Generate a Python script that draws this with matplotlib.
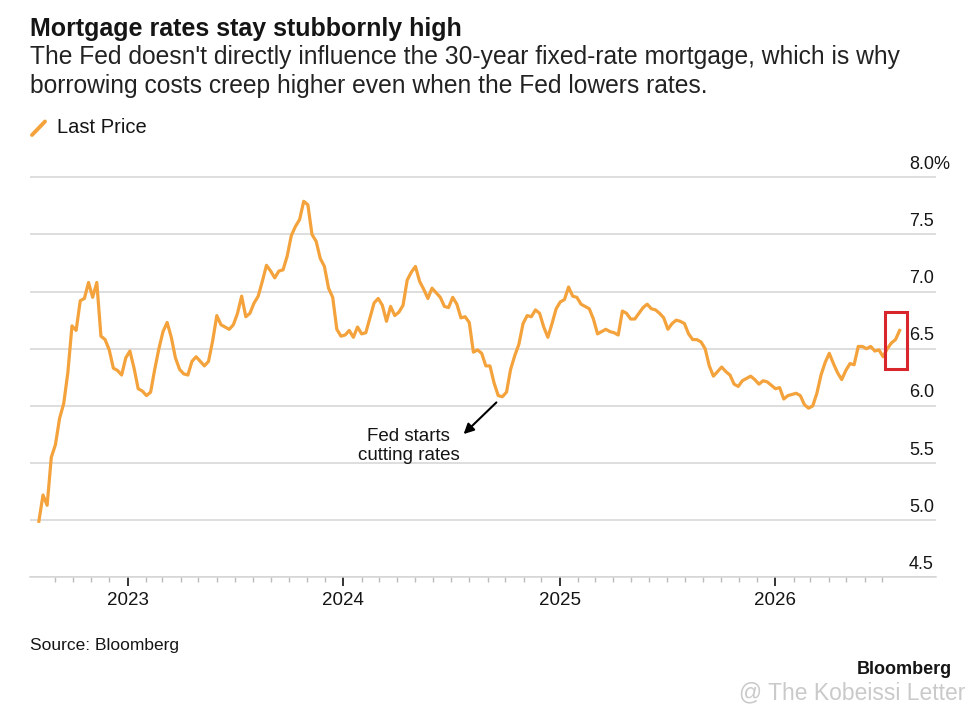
import matplotlib
matplotlib.use("Agg")
import matplotlib.pyplot as plt
import matplotlib.dates as mdates
import matplotlib.patches as mpatches
from matplotlib.lines import Line2D
from matplotlib.transforms import blended_transform_factory, offset_copy
import pandas as pd

# ── data (weekly 30-year fixed rate, %) ─────────────────────
FIRST_WEEK = "2022-08-04"
RATES_2022 = [4.99, 5.22, 5.13, 5.55, 5.66, 5.89, 6.02, 6.29, 6.70, 6.66, 6.92,
              6.94, 7.08, 6.95, 7.08, 6.61, 6.58, 6.49, 6.33, 6.31, 6.27, 6.42]
RATES_2023 = [6.48, 6.33, 6.15, 6.13, 6.09, 6.12, 6.32, 6.50, 6.65, 6.73, 6.60,
              6.42, 6.32, 6.28, 6.27, 6.39, 6.43, 6.39, 6.35, 6.39, 6.57, 6.79,
              6.71, 6.69, 6.67, 6.71, 6.81, 6.96, 6.78, 6.81, 6.90, 6.96, 7.09,
              7.23, 7.18, 7.12, 7.18, 7.19, 7.31, 7.49, 7.57, 7.63, 7.79, 7.76,
              7.50, 7.44, 7.29, 7.22, 7.03, 6.95, 6.67, 6.61]
RATES_2024 = [6.62, 6.66, 6.60, 6.69, 6.63, 6.64, 6.77, 6.90, 6.94, 6.88, 6.74,
              6.87, 6.79, 6.82, 6.88, 7.10, 7.17, 7.22, 7.09, 7.02, 6.94, 7.03,
              6.99, 6.95, 6.87, 6.86, 6.95, 6.89, 6.77, 6.78, 6.73, 6.47, 6.49,
              6.46, 6.35, 6.35, 6.20, 6.09, 6.08, 6.12, 6.32, 6.44, 6.54, 6.72,
              6.79, 6.78, 6.84, 6.81, 6.69, 6.60, 6.72, 6.85]
RATES_2025 = [6.91, 6.93, 7.04, 6.96, 6.95, 6.89, 6.87, 6.85, 6.76, 6.63, 6.65,
              6.67, 6.65, 6.64, 6.62, 6.83, 6.81, 6.76, 6.76, 6.81, 6.86, 6.89,
              6.85, 6.84, 6.81, 6.77, 6.67, 6.72, 6.75, 6.74, 6.72, 6.63, 6.58,
              6.58, 6.56, 6.50, 6.35, 6.26, 6.30, 6.34, 6.30, 6.27, 6.19, 6.17,
              6.22, 6.24, 6.26, 6.23, 6.19, 6.22, 6.21, 6.18]
RATES_2026 = [6.15, 6.16, 6.06, 6.09, 6.10, 6.11, 6.09, 6.01, 5.98, 6.00, 6.11,
              6.27, 6.38, 6.46, 6.37, 6.29, 6.23, 6.31, 6.37, 6.36, 6.52, 6.52,
              6.50, 6.52, 6.48, 6.49, 6.43, 6.50, 6.55, 6.58, 6.66]

Y_TICKS = [4.5, 5.0, 5.5, 6.0, 6.5, 7.0, 7.5, 8.0]
Y_LABELS = ["4.5", "5.0", "5.5", "6.0", "6.5", "7.0", "7.5", "8.0%"]
YEAR_TICKS = ["2023-01-01", "2024-01-01", "2025-01-01", "2026-01-01"]
YEAR_LABELS = ["2023", "2024", "2025", "2026"]
MONTH_TICKS = ("2022-09-01", "2026-07-01")
X_RANGE = ("2022-07-20", "2026-09-29")
HIGHLIGHT_DATES = ("2026-07-05", "2026-08-12")
HIGHLIGHT_RATES = (6.32, 6.82)

ORANGE = "#F4A23C"
GRID = "#D4D4D4"
INK = "#151515"

W, H = 974, 705


def fx(px):
    return px / W


def fy(py):
    return 1 - py / H


plt.rcParams["font.family"] = ["Liberation Sans", "DejaVu Sans"]

rates = RATES_2022 + RATES_2023 + RATES_2024 + RATES_2025 + RATES_2026
dates = pd.date_range(FIRST_WEEK, periods=len(rates), freq="7D")
series = pd.Series(rates, index=dates)

fig = plt.figure(figsize=(W / 100, H / 100), dpi=100)
ax = fig.add_axes([fx(30), fy(577.3), fx(935.7) - fx(30), fy(171.6) - fy(577.3)])

ax.plot(series.index, series.values, color=ORANGE, lw=2.3, solid_joinstyle="round", zorder=3)

ax.set_xlim(pd.Timestamp(X_RANGE[0]), pd.Timestamp(X_RANGE[1]))
ax.set_ylim(4.5, 8.05)

# gridlines + right-side labels sitting on top of them
ax.set_yticks(Y_TICKS)
ax.tick_params(axis="y", length=0, labelleft=False)
ax.grid(axis="y", color=GRID, lw=1.1)
ax.set_axisbelow(True)
lab_tr = offset_copy(blended_transform_factory(fig.transFigure, ax.transData),
                     fig=fig, y=6.1, units="points")
for v, lab in zip(Y_TICKS, Y_LABELS):
    ax.text(fx(909), v, lab, transform=lab_tr, ha="left", va="baseline",
            fontsize=13, color=INK)

for side in ["top", "right", "left"]:
    ax.spines[side].set_visible(False)
ax.spines["bottom"].set_color(GRID)
ax.spines["bottom"].set_linewidth(1.1)

ax.set_xticks(pd.to_datetime(YEAR_TICKS))
ax.set_xticklabels(YEAR_LABELS)
ax.set_xticks(pd.date_range(MONTH_TICKS[0], MONTH_TICKS[1], freq="MS"), minor=True)
ax.tick_params(axis="x", which="major", length=6.5, width=1.4, color="#333333",
               labelsize=13.5, labelcolor=INK, pad=3.8)
ax.tick_params(axis="x", which="minor", length=3.6, width=1.0, color="#BBBBBB")

# ── annotation ───────────────────────────────────────────────
in_2024 = series[series.index.year == 2024]
low_x = mdates.date2num(in_2024.idxmin())
low_y = in_2024.min()
ax.annotate("", xy=(low_x, low_y),
            xycoords=offset_copy(ax.transData, fig=fig, x=-27.9, y=-26.9, units="points"),
            xytext=(low_x, low_y),
            textcoords=offset_copy(ax.transData, fig=fig, x=-4.3, y=-4.1, units="points"),
            arrowprops=dict(arrowstyle="-|>", color="black", lw=1.5,
                            mutation_scale=15, shrinkA=0, shrinkB=0))
ax.annotate("Fed starts\ncutting rates", xy=(low_x, low_y), xytext=(-67.5, -35.5),
            textcoords="offset points", ha="center", va="center",
            fontsize=13.5, color=INK, linespacing=1.12)

# red highlight box round the latest weeks
x0 = mdates.date2num(pd.Timestamp(HIGHLIGHT_DATES[0]))
x1 = mdates.date2num(pd.Timestamp(HIGHLIGHT_DATES[1]))
ax.add_patch(mpatches.Rectangle((x0, HIGHLIGHT_RATES[0]), x1 - x0,
                                HIGHLIGHT_RATES[1] - HIGHLIGHT_RATES[0],
                                fill=False, edgecolor="#D9262C", lw=2.2,
                                clip_on=False, zorder=4))

# ── titles, legend, footer ───────────────────────────────────
fig.text(fx(30), fy(35.7), "Mortgage rates stay stubbornly high",
         fontsize=18, fontweight="bold", color=INK, va="baseline")
fig.text(fx(30), fy(64.3),
         "The Fed doesn't directly influence the 30-year fixed-rate mortgage, which is why",
         fontsize=17.7, color="#222222", va="baseline")
fig.text(fx(30), fy(93), "borrowing costs creep higher even when the Fed lowers rates.",
         fontsize=17.7, color="#222222", va="baseline")

fig.add_artist(Line2D([fx(32), fx(45)], [fy(135), fy(121.5)], color=ORANGE, lw=2.8,
                      solid_capstyle="round"))
fig.text(fx(56.7), fy(133.3), "Last Price", fontsize=14.5, color=INK, va="baseline")

fig.text(fx(30), fy(650), "Source: Bloomberg", fontsize=12.5, color=INK, va="baseline")
fig.text(fx(952), fy(674), "Bloomberg", fontsize=13, fontweight="bold", color=INK,
         ha="right", va="baseline")
fig.text(fx(965), fy(699), "@ The Kobeissi Letter", fontsize=16.5, color="#BDBDBD",
         alpha=0.8, ha="right", va="baseline")

fig.savefig("out.png", dpi=100, facecolor="white")
